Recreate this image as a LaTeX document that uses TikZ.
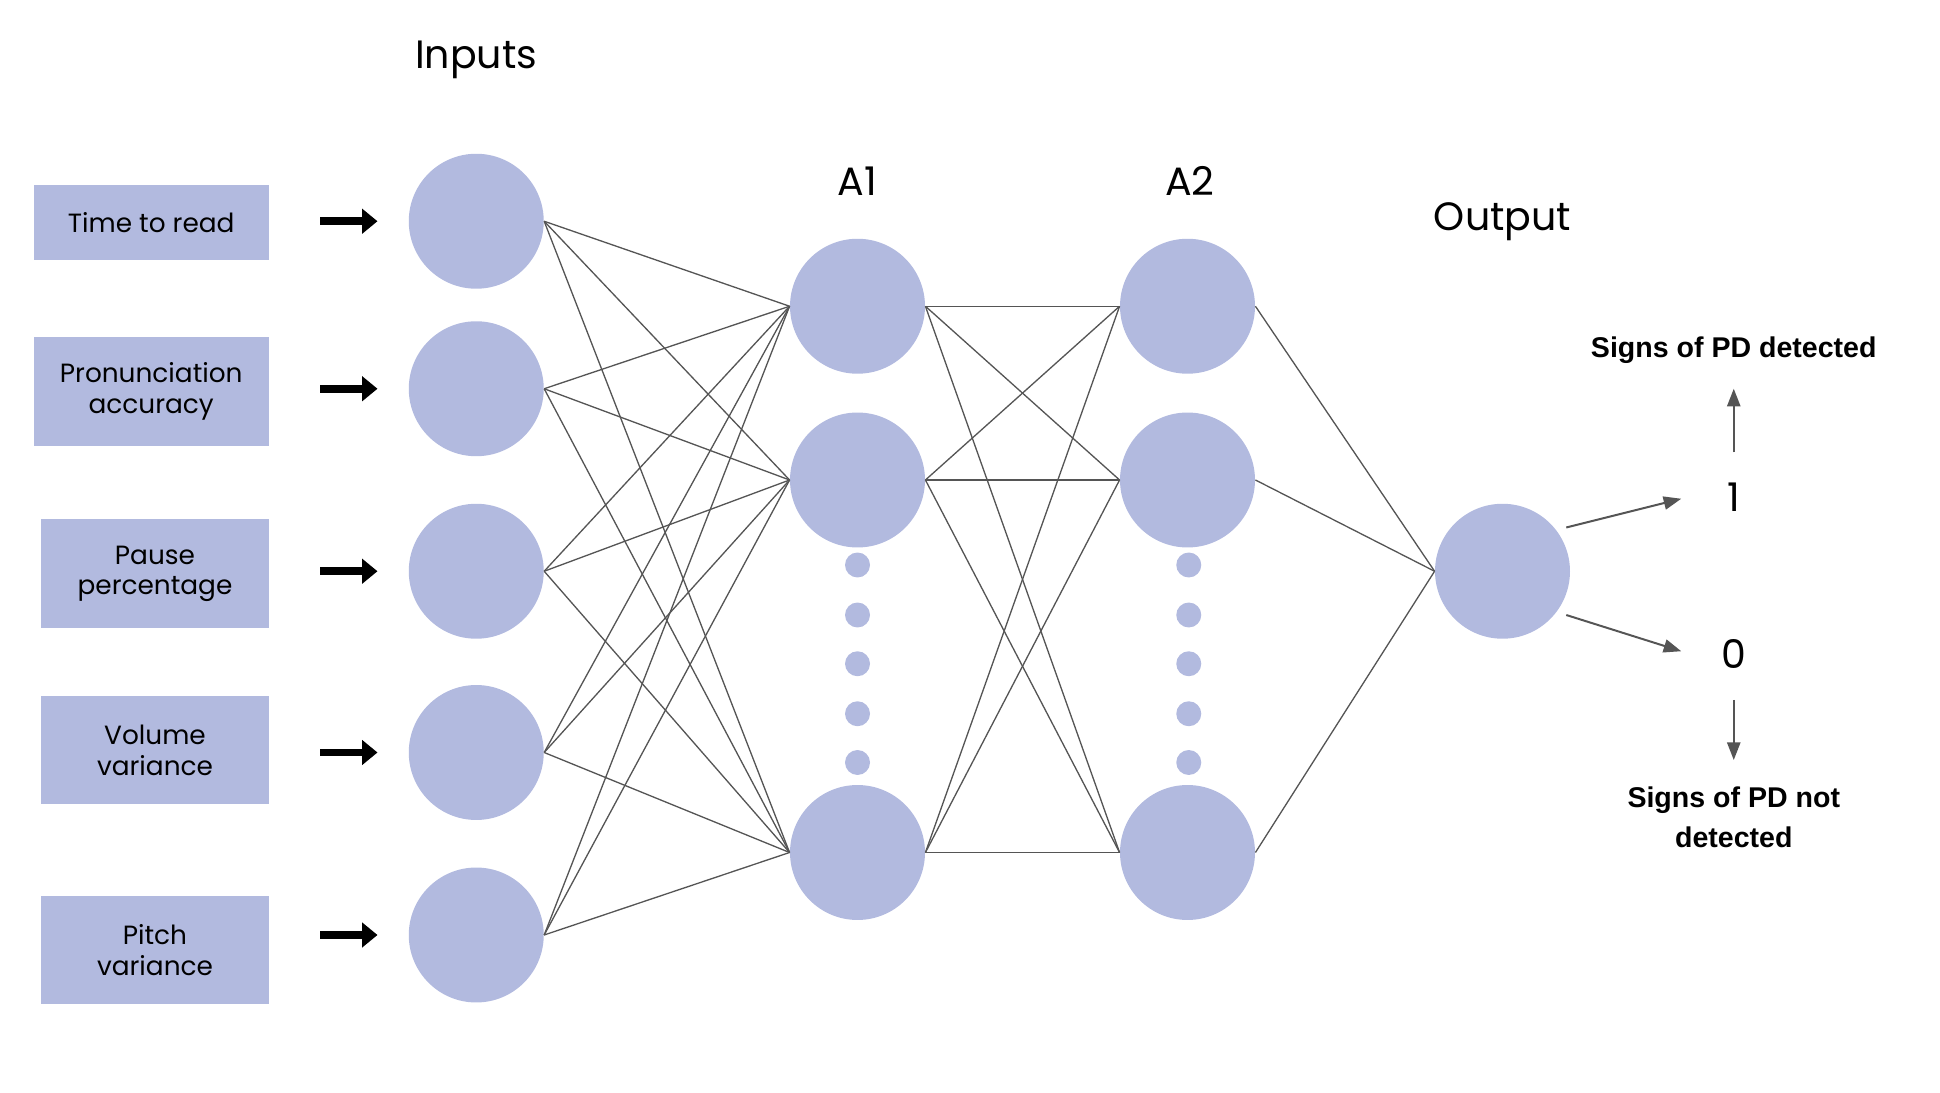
\documentclass[tikz,border=0pt]{standalone}
\usepackage{fontspec}
\setmainfont{Poppins}
\newfontfamily\labelfont{Liberation Sans}
\usetikzlibrary{arrows.meta}
\definecolor{lav}{HTML}{B2BADF}
\definecolor{edge}{HTML}{555555}
\tikzset{
  neuron/.style={circle, fill=lav, minimum size=2.16cm, inner sep=0pt},
  dot/.style={circle, fill=lav, minimum size=0.4cm, inner sep=0pt},
  feature/.style={fill=lav, align=center, font=\fontsize{12}{14}\selectfont, inner sep=0pt},
  title/.style={font=\fontsize{18}{20}\selectfont},
  wire/.style={draw=edge, line width=0.6pt},
  feed/.style={draw, line width=3.5pt, -{Triangle[length=7pt,width=11pt]}},
  thin/.style={draw=edge, line width=0.9pt, -{Triangle[length=8pt,width=6pt]}},
  result/.style={font=\labelfont\bfseries\fontsize{13}{18}\selectfont, align=center}
}
\begin{document}
\begin{tikzpicture}[x=0.02cm,y=-0.02cm]
\useasboundingbox (0,0) rectangle (1552,874);

% feature boxes
\node[feature, minimum width=3.76cm, minimum height=1.2cm] (f1) at (121,178) {Time to read};
\node[feature, minimum width=3.76cm, minimum height=1.74cm] (f2) at (121,313) {Pronunciation\\accuracy};
\node[feature, minimum width=3.64cm, minimum height=1.74cm] (f3) at (124,459) {Pause\\percentage};
\node[feature, minimum width=3.64cm, minimum height=1.74cm] (f4) at (124,600) {Volume\\variance};
\node[feature, minimum width=3.64cm, minimum height=1.74cm] (f5) at (124,760) {Pitch\\variance};

% layers
\node[neuron] (i1) at (381,177) {};
\node[neuron] (i2) at (381,311) {};
\node[neuron] (i3) at (381,457) {};
\node[neuron] (i4) at (381,602) {};
\node[neuron] (i5) at (381,748) {};

\node[neuron] (a1) at (686,245) {};
\node[neuron] (a2) at (686,384) {};
\node[neuron] (a3) at (686,682) {};
\node[neuron] (b1) at (950,245) {};
\node[neuron] (b2) at (950,384) {};
\node[neuron] (b3) at (950,682) {};
\node[neuron] (out) at (1202,457) {};

\foreach \y [count=\k] in {452,492,531,571,610} {
  \node[dot] (da\k) at (686,\y) {};
  \node[dot] (db\k) at (951,\y) {};
}

% titles
\node[title] (tin) at (381,48) {Inputs};
\node[title] (ta) at (686,145) {A1};
\node[title] (tb) at (952,145) {A2};
\node[title] (tout) at (1202,177) {Output};

% connections
\foreach \i in {1,...,5}
  \foreach \j in {1,2,3}
    \path[wire] (i\i.east) -- (a\j.west);
\foreach \i in {1,2,3}
  \foreach \j in {1,2,3}
    \path[wire] (a\i.east) -- (b\j.west);
\foreach \i in {1,2,3}
  \path[wire] (b\i.east) -- (out.west);

% feature arrows
\foreach \i/\y in {1/177,2/311,3/457,4/602,5/748} {
  \coordinate (fs\i) at (256,\y);
  \coordinate (fe\i) at (302,\y);
  \path[feed] (fs\i) -- (fe\i);
}

% output side
\node[title] (one) at (1387,398) {1};
\node[title] (zero) at (1387,523) {0};
\node[result] (yes) at (1387,280) {Signs of PD detected};
\node[result] (no) at (1387,654) {Signs of PD not\\detected};
\coordinate (o1) at (1253,422);
\coordinate (o0) at (1253,492);
\coordinate (e1) at (1345,399);
\coordinate (e0) at (1345,521);
\path[thin] (o1) -- (e1);
\path[thin] (o0) -- (e0);
\coordinate (u1) at (1387,362);
\coordinate (u2) at (1387,311);
\coordinate (d1) at (1387,560);
\coordinate (d2) at (1387,608);
\path[thin] (u1) -- (u2);
\path[thin] (d1) -- (d2);
\end{tikzpicture}
\end{document}
